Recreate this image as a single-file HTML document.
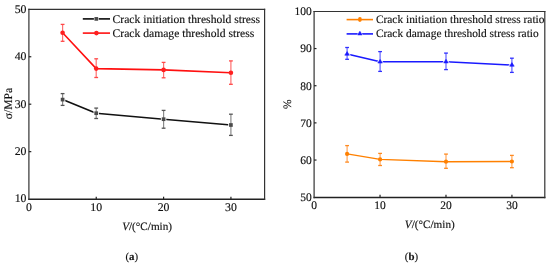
<!DOCTYPE html><html><head><meta charset="utf-8"><style>html,body{margin:0;padding:0;background:#fff;width:550px;height:265px;overflow:hidden}svg{display:block;will-change:transform}text{font-family:"Liberation Serif",serif;fill:#111;stroke:#111;stroke-width:0.15px;text-rendering:geometricPrecision}</style></head><body>
<svg width="550" height="265" viewBox="0 0 550 265">
<line x1="28.30" y1="9.3" x2="265.20" y2="9.3" stroke="#333" stroke-width="1.2"/>
<line x1="28.30" y1="199.2" x2="265.20" y2="199.2" stroke="#222" stroke-width="1.4"/>
<line x1="28.9" y1="8.70" x2="28.9" y2="199.90" stroke="#333" stroke-width="1.2"/>
<line x1="264.6" y1="8.70" x2="264.6" y2="199.90" stroke="#333" stroke-width="1.2"/>
<text x="26.50" y="13.10" text-anchor="end" font-size="11.8">50</text>
<line x1="28.9" y1="56.75" x2="31.299999999999997" y2="56.75" stroke="#222" stroke-width="1.2"/>
<text x="26.50" y="60.05" text-anchor="end" font-size="11.8">40</text>
<line x1="28.9" y1="104.20" x2="31.299999999999997" y2="104.20" stroke="#222" stroke-width="1.2"/>
<text x="26.50" y="108.00" text-anchor="end" font-size="11.8">30</text>
<line x1="28.9" y1="151.65" x2="31.299999999999997" y2="151.65" stroke="#222" stroke-width="1.2"/>
<text x="26.50" y="155.45" text-anchor="end" font-size="11.8">20</text>
<text x="26.50" y="202.30" text-anchor="end" font-size="11.8">10</text>
<text x="28.90" y="211.30" text-anchor="middle" font-size="11.8">0</text>
<line x1="96.24" y1="199.1" x2="96.24" y2="196.7" stroke="#222" stroke-width="1.2"/>
<text x="96.24" y="211.30" text-anchor="middle" font-size="11.8">10</text>
<line x1="163.59" y1="199.1" x2="163.59" y2="196.7" stroke="#222" stroke-width="1.2"/>
<text x="163.59" y="211.30" text-anchor="middle" font-size="11.8">20</text>
<line x1="230.93" y1="199.1" x2="230.93" y2="196.7" stroke="#222" stroke-width="1.2"/>
<text x="230.93" y="211.30" text-anchor="middle" font-size="11.8">30</text>
<path d="M62.6,99.6 L96.2,113.2 L163.6,119.2 L230.9,125.0" fill="none" stroke="#111" stroke-width="1.65" stroke-linejoin="round"/>
<rect x="59.90" y="96.90" width="5.40" height="5.40" fill="#fff" />
<rect x="93.50" y="110.50" width="5.40" height="5.40" fill="#fff" />
<rect x="160.90" y="116.50" width="5.40" height="5.40" fill="#fff" />
<rect x="228.20" y="122.30" width="5.40" height="5.40" fill="#fff" />
<line x1="62.6" y1="93.6" x2="62.6" y2="105.4" stroke="#8a8a8a" stroke-width="1.2"/>
<line x1="60.7" y1="93.6" x2="64.5" y2="93.6" stroke="#555" stroke-width="1.3"/>
<line x1="60.7" y1="105.4" x2="64.5" y2="105.4" stroke="#555" stroke-width="1.3"/>
<line x1="96.2" y1="108.1" x2="96.2" y2="118.5" stroke="#8a8a8a" stroke-width="1.2"/>
<line x1="94.3" y1="108.1" x2="98.10000000000001" y2="108.1" stroke="#555" stroke-width="1.3"/>
<line x1="94.3" y1="118.5" x2="98.10000000000001" y2="118.5" stroke="#555" stroke-width="1.3"/>
<line x1="163.6" y1="110.4" x2="163.6" y2="128.2" stroke="#8a8a8a" stroke-width="1.2"/>
<line x1="161.7" y1="110.4" x2="165.5" y2="110.4" stroke="#555" stroke-width="1.3"/>
<line x1="161.7" y1="128.2" x2="165.5" y2="128.2" stroke="#555" stroke-width="1.3"/>
<line x1="230.9" y1="114.2" x2="230.9" y2="135.4" stroke="#8a8a8a" stroke-width="1.2"/>
<line x1="229.0" y1="114.2" x2="232.8" y2="114.2" stroke="#555" stroke-width="1.3"/>
<line x1="229.0" y1="135.4" x2="232.8" y2="135.4" stroke="#555" stroke-width="1.3"/>
<rect x="60.75" y="97.75" width="3.70" height="3.70" fill="#4a4a4a" />
<rect x="94.35" y="111.35" width="3.70" height="3.70" fill="#4a4a4a" />
<rect x="161.75" y="117.35" width="3.70" height="3.70" fill="#4a4a4a" />
<rect x="229.05" y="123.15" width="3.70" height="3.70" fill="#4a4a4a" />
<path d="M62.6,32.8 L96.2,68.6 L163.6,69.9 L230.9,72.8" fill="none" stroke="#ff1010" stroke-width="1.6" stroke-linejoin="round"/>
<line x1="62.6" y1="24.4" x2="62.6" y2="41.3" stroke="#ff7070" stroke-width="1.2"/>
<line x1="60.7" y1="24.4" x2="64.5" y2="24.4" stroke="#ff4848" stroke-width="1.3"/>
<line x1="60.7" y1="41.3" x2="64.5" y2="41.3" stroke="#ff4848" stroke-width="1.3"/>
<line x1="96.2" y1="58.8" x2="96.2" y2="77.5" stroke="#ff7070" stroke-width="1.2"/>
<line x1="94.3" y1="58.8" x2="98.10000000000001" y2="58.8" stroke="#ff4848" stroke-width="1.3"/>
<line x1="94.3" y1="77.5" x2="98.10000000000001" y2="77.5" stroke="#ff4848" stroke-width="1.3"/>
<line x1="163.6" y1="62.4" x2="163.6" y2="77.8" stroke="#ff7070" stroke-width="1.2"/>
<line x1="161.7" y1="62.4" x2="165.5" y2="62.4" stroke="#ff4848" stroke-width="1.3"/>
<line x1="161.7" y1="77.8" x2="165.5" y2="77.8" stroke="#ff4848" stroke-width="1.3"/>
<line x1="230.9" y1="60.9" x2="230.9" y2="84.3" stroke="#ff7070" stroke-width="1.2"/>
<line x1="229.0" y1="60.9" x2="232.8" y2="60.9" stroke="#ff4848" stroke-width="1.3"/>
<line x1="229.0" y1="84.3" x2="232.8" y2="84.3" stroke="#ff4848" stroke-width="1.3"/>
<circle cx="62.6" cy="32.8" r="2.3" fill="#ff2020"/>
<circle cx="96.2" cy="68.6" r="2.3" fill="#ff2020"/>
<circle cx="163.6" cy="69.9" r="2.3" fill="#ff2020"/>
<circle cx="230.9" cy="72.8" r="2.3" fill="#ff2020"/>
<line x1="82.8" y1="18.9" x2="110" y2="18.9" stroke="#111" stroke-width="1.65"/>
<rect x="93.90" y="16.50" width="4.80" height="4.80" fill="#fff" />
<rect x="94.45" y="17.05" width="3.70" height="3.70" fill="#4a4a4a" />
<line x1="82.8" y1="33.1" x2="110" y2="33.1" stroke="#ff1010" stroke-width="1.6"/>
<circle cx="96.4" cy="33.1" r="2.3" fill="#ff2020"/>
<text x="112.5" y="22.8" font-size="11.64">Crack initiation threshold stress</text>
<text x="112.5" y="36.9" font-size="11.64">Crack damage threshold stress</text>
<text x="147.1" y="229.8" text-anchor="middle" font-size="11.2"><tspan font-style="italic">V</tspan>/(°C/min)</text>
<text transform="translate(11.6,103.6) rotate(-90)" text-anchor="middle" font-size="11.6">σ/MPa</text>
<text x="131.8" y="259.7" text-anchor="middle" font-size="10.8" >(<tspan font-weight="bold">a</tspan>)</text>
<line x1="313.50" y1="11.5" x2="545.40" y2="11.5" stroke="#333" stroke-width="1.2"/>
<line x1="313.50" y1="197.5" x2="545.40" y2="197.5" stroke="#222" stroke-width="1.4"/>
<line x1="314.1" y1="10.90" x2="314.1" y2="198.20" stroke="#333" stroke-width="1.2"/>
<line x1="544.8" y1="10.90" x2="544.8" y2="198.20" stroke="#333" stroke-width="1.2"/>
<text x="311.70" y="15.20" text-anchor="end" font-size="11.5">100</text>
<line x1="314.1" y1="48.56" x2="316.5" y2="48.56" stroke="#222" stroke-width="1.2"/>
<text x="311.70" y="52.36" text-anchor="end" font-size="11.5">90</text>
<line x1="314.1" y1="85.72" x2="316.5" y2="85.72" stroke="#222" stroke-width="1.2"/>
<text x="311.70" y="89.52" text-anchor="end" font-size="11.5">80</text>
<line x1="314.1" y1="122.88" x2="316.5" y2="122.88" stroke="#222" stroke-width="1.2"/>
<text x="311.70" y="126.68" text-anchor="end" font-size="11.5">70</text>
<line x1="314.1" y1="160.04" x2="316.5" y2="160.04" stroke="#222" stroke-width="1.2"/>
<text x="311.70" y="163.84" text-anchor="end" font-size="11.5">60</text>
<text x="311.70" y="201.00" text-anchor="end" font-size="11.5">50</text>
<text x="314.10" y="208.50" text-anchor="middle" font-size="11.5">0</text>
<line x1="380.04" y1="197.2" x2="380.04" y2="194.79999999999998" stroke="#222" stroke-width="1.2"/>
<text x="380.04" y="208.50" text-anchor="middle" font-size="11.5">10</text>
<line x1="445.99" y1="197.2" x2="445.99" y2="194.79999999999998" stroke="#222" stroke-width="1.2"/>
<text x="445.99" y="208.50" text-anchor="middle" font-size="11.5">20</text>
<line x1="511.93" y1="197.2" x2="511.93" y2="194.79999999999998" stroke="#222" stroke-width="1.2"/>
<text x="511.93" y="208.50" text-anchor="middle" font-size="11.5">30</text>
<path d="M347.1,153.9 L380.1,159.4 L446.0,161.7 L511.9,161.5" fill="none" stroke="#ff8000" stroke-width="1.45" stroke-linejoin="round"/>
<line x1="347.1" y1="145.6" x2="347.1" y2="162.1" stroke="#ffa55a" stroke-width="1.2"/>
<line x1="345.20000000000005" y1="145.6" x2="349.0" y2="145.6" stroke="#ff8a20" stroke-width="1.3"/>
<line x1="345.20000000000005" y1="162.1" x2="349.0" y2="162.1" stroke="#ff8a20" stroke-width="1.3"/>
<line x1="380.1" y1="153.4" x2="380.1" y2="165.5" stroke="#ffa55a" stroke-width="1.2"/>
<line x1="378.20000000000005" y1="153.4" x2="382.0" y2="153.4" stroke="#ff8a20" stroke-width="1.3"/>
<line x1="378.20000000000005" y1="165.5" x2="382.0" y2="165.5" stroke="#ff8a20" stroke-width="1.3"/>
<line x1="446.0" y1="154.1" x2="446.0" y2="168.3" stroke="#ffa55a" stroke-width="1.2"/>
<line x1="444.1" y1="154.1" x2="447.9" y2="154.1" stroke="#ff8a20" stroke-width="1.3"/>
<line x1="444.1" y1="168.3" x2="447.9" y2="168.3" stroke="#ff8a20" stroke-width="1.3"/>
<line x1="511.9" y1="155.4" x2="511.9" y2="167.7" stroke="#ffa55a" stroke-width="1.2"/>
<line x1="510.0" y1="155.4" x2="513.8" y2="155.4" stroke="#ff8a20" stroke-width="1.3"/>
<line x1="510.0" y1="167.7" x2="513.8" y2="167.7" stroke="#ff8a20" stroke-width="1.3"/>
<circle cx="347.1" cy="153.9" r="2.1" fill="#ff8000"/>
<circle cx="380.1" cy="159.4" r="2.1" fill="#ff8000"/>
<circle cx="446.0" cy="161.7" r="2.1" fill="#ff8000"/>
<circle cx="511.9" cy="161.5" r="2.1" fill="#ff8000"/>
<path d="M347.1,54.0 L380.1,61.8 L446.0,61.7 L511.9,65.0" fill="none" stroke="#1a1aff" stroke-width="1.5" stroke-linejoin="round"/>
<path d="M347.1,51.60 L349.40,55.20 L344.80,55.20 Z" fill="#fff" stroke="#fff" stroke-width="2.2" stroke-linejoin="round"/>
<path d="M380.1,59.40 L382.40,63.00 L377.80,63.00 Z" fill="#fff" stroke="#fff" stroke-width="2.2" stroke-linejoin="round"/>
<path d="M446.0,59.30 L448.30,62.90 L443.70,62.90 Z" fill="#fff" stroke="#fff" stroke-width="2.2" stroke-linejoin="round"/>
<path d="M511.9,62.60 L514.20,66.20 L509.60,66.20 Z" fill="#fff" stroke="#fff" stroke-width="2.2" stroke-linejoin="round"/>
<line x1="347.1" y1="47.5" x2="347.1" y2="59.3" stroke="#6060ff" stroke-width="1.2"/>
<line x1="345.20000000000005" y1="47.5" x2="349.0" y2="47.5" stroke="#3030ff" stroke-width="1.3"/>
<line x1="345.20000000000005" y1="59.3" x2="349.0" y2="59.3" stroke="#3030ff" stroke-width="1.3"/>
<line x1="380.1" y1="51.6" x2="380.1" y2="71.4" stroke="#6060ff" stroke-width="1.2"/>
<line x1="378.20000000000005" y1="51.6" x2="382.0" y2="51.6" stroke="#3030ff" stroke-width="1.3"/>
<line x1="378.20000000000005" y1="71.4" x2="382.0" y2="71.4" stroke="#3030ff" stroke-width="1.3"/>
<line x1="446.0" y1="53.1" x2="446.0" y2="69.6" stroke="#6060ff" stroke-width="1.2"/>
<line x1="444.1" y1="53.1" x2="447.9" y2="53.1" stroke="#3030ff" stroke-width="1.3"/>
<line x1="444.1" y1="69.6" x2="447.9" y2="69.6" stroke="#3030ff" stroke-width="1.3"/>
<line x1="511.9" y1="58.2" x2="511.9" y2="72.4" stroke="#6060ff" stroke-width="1.2"/>
<line x1="510.0" y1="58.2" x2="513.8" y2="58.2" stroke="#3030ff" stroke-width="1.3"/>
<line x1="510.0" y1="72.4" x2="513.8" y2="72.4" stroke="#3030ff" stroke-width="1.3"/>
<path d="M347.1,51.60 L349.40,55.20 L344.80,55.20 Z" fill="#1a1aff" stroke="#1a1aff" stroke-width="0.6" stroke-linejoin="round"/>
<path d="M380.1,59.40 L382.40,63.00 L377.80,63.00 Z" fill="#1a1aff" stroke="#1a1aff" stroke-width="0.6" stroke-linejoin="round"/>
<path d="M446.0,59.30 L448.30,62.90 L443.70,62.90 Z" fill="#1a1aff" stroke="#1a1aff" stroke-width="0.6" stroke-linejoin="round"/>
<path d="M511.9,62.60 L514.20,66.20 L509.60,66.20 Z" fill="#1a1aff" stroke="#1a1aff" stroke-width="0.6" stroke-linejoin="round"/>
<line x1="346.6" y1="19.6" x2="373" y2="19.6" stroke="#ff8000" stroke-width="1.6"/>
<ellipse cx="359.9" cy="19.5" rx="1.9" ry="2.4" fill="#ff8000"/>
<line x1="346.6" y1="33.9" x2="373" y2="33.9" stroke="#1a1aff" stroke-width="1.6"/>
<path d="M359.9,31.30 L362.20,34.90 L357.60,34.90 Z" fill="#fff" stroke="#fff" stroke-width="1.4" stroke-linejoin="round"/>
<path d="M359.9,31.30 L362.20,34.90 L357.60,34.90 Z" fill="#1a1aff" stroke="#1a1aff" stroke-width="0.6" stroke-linejoin="round"/>
<text x="375.9" y="23.4" font-size="11.42">Crack initiation threshold stress ratio</text>
<text x="375.9" y="37.2" font-size="11.42">Crack damage threshold stress ratio</text>
<text x="429.8" y="227.9" text-anchor="middle" font-size="11.2"><tspan font-style="italic">V</tspan>/(°C/min)</text>
<text transform="translate(291.1,104.2) rotate(-90)" text-anchor="middle" font-size="11.4">%</text>
<text x="411.4" y="259.7" text-anchor="middle" font-size="10.8" >(<tspan font-weight="bold">b</tspan>)</text>
</svg></body></html>
